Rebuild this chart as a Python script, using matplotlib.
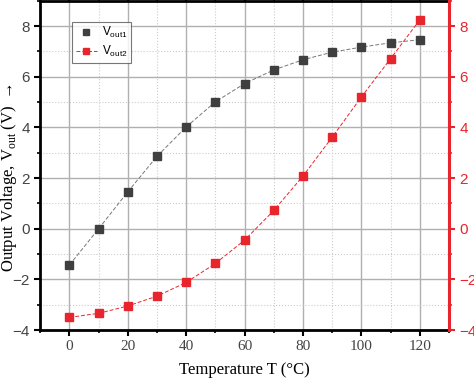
import matplotlib as mpl
mpl.use('Agg')
import matplotlib.pyplot as plt
from matplotlib.ticker import MultipleLocator

plt.rcParams['mathtext.fontset'] = 'custom'
plt.rcParams['mathtext.rm'] = 'Liberation Serif'
plt.rcParams['mathtext.sf'] = 'Liberation Sans'

temp = [0, 10, 20, 30, 40, 50, 60, 70, 80, 90, 100, 110, 120]
vout1 = [-1.43, 0.0, 1.46, 2.86, 4.02, 5.01, 5.73, 6.27, 6.67, 6.97, 7.17, 7.34, 7.46]
vout2 = [-3.50, -3.34, -3.05, -2.66, -2.12, -1.37, -0.45, 0.72, 2.08, 3.61, 5.20, 6.71, 8.24]

gray = '#3f3f3f'
red = '#e8252d'

fig = plt.figure(figsize=(4.74, 3.82), dpi=100)
ax = fig.add_axes([0.085, 0.136, 0.862, 0.862])
ax2 = ax.twinx()

ax.plot(temp, vout1, ls=(0, (4, 2)), lw=0.7, color='#777777', zorder=3)
ax.plot(temp, vout1, ls='none', marker='s', ms=6, color=gray, label=r'V$_{\mathsf{out1}}$', zorder=4)
ax2.plot(temp, vout2, ls=(0, (4, 2)), lw=0.7, color=red, marker='s', ms=6,
         mfc=red, mec=red, label=r'V$_{\mathsf{out2}}$')

for a in (ax, ax2):
    a.set_xlim(-10, 130)
    a.set_ylim(-4, 9)
    a.yaxis.set_major_locator(MultipleLocator(2))
    a.yaxis.set_minor_locator(MultipleLocator(1))
ax.xaxis.set_major_locator(MultipleLocator(20))
ax.xaxis.set_minor_locator(MultipleLocator(10))

ax.grid(which='major', color='#b0b0b0', lw=1.0)
ax.grid(which='minor', color='#cccccc', lw=0.8, ls=':')
ax.set_axisbelow(True)

for s in ['left', 'bottom', 'top']:
    ax.spines[s].set_linewidth(2)
ax2.spines['right'].set_color(red)
ax2.spines['right'].set_linewidth(2.2)
for s in ['left', 'bottom', 'top']:
    ax2.spines[s].set_visible(False)

ax.tick_params(axis='y', which='major', direction='out', length=4, width=1.5,
               labelsize=11, labelcolor='#444444')
ax.tick_params(axis='y', which='minor', direction='out', length=2, width=1.2)
ax.tick_params(axis='x', which='major', direction='out', length=4, width=1.5, top=True,
               labelsize=11, labelcolor='#444444')
ax.tick_params(axis='x', which='minor', direction='out', length=2, width=1.2, top=True)
ax2.tick_params(axis='y', which='major', direction='out', length=4, width=1.5,
                colors=red, labelsize=11)
ax2.tick_params(axis='y', which='minor', direction='out', length=2, width=1.2, colors=red)
for lab in ax.get_yticklabels() + ax2.get_yticklabels():
    lab.set_fontfamily('Liberation Sans')
for lab in ax.get_xticklabels():
    lab.set_fontfamily('Liberation Serif')

ax.set_xlabel('Temperature T (\u00b0C)', family='Liberation Serif', fontsize=12, labelpad=6)
fig.text(0.02, 0.534, r'Output Voltage, V$_{\rm out}$ (V) $\rightarrow$',
         family='Liberation Serif', fontsize=12, rotation=90, ha='center', va='center')

h1, l1 = ax.get_legend_handles_labels()
h2, l2 = ax2.get_legend_handles_labels()
leg = ax2.legend(h1 + h2, l1 + l2, loc='upper left', bbox_to_anchor=(0.078, 0.936),
                 prop={'family': 'Liberation Sans', 'size': 8.5}, markerscale=0.7,
                 frameon=True, fancybox=False, edgecolor='#555555', handlelength=1.8,
                 handletextpad=0.4, borderpad=0.3, labelspacing=0.3, borderaxespad=0)
leg.get_frame().set_linewidth(0.8)

fig.savefig('out.png', dpi=100)
